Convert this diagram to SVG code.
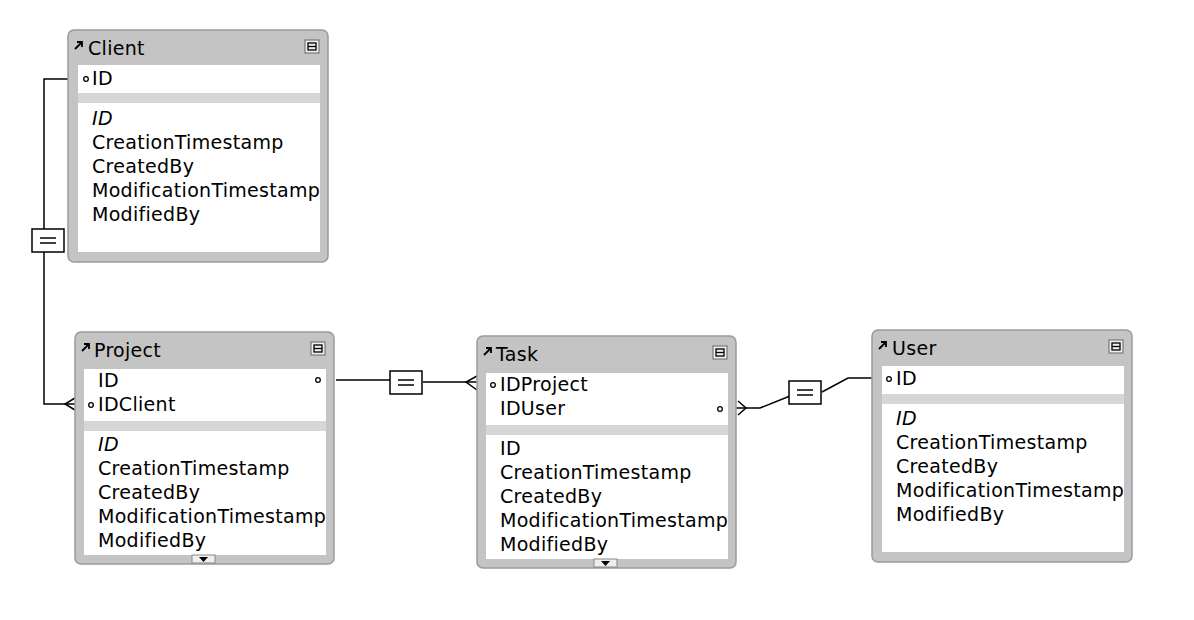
<svg xmlns="http://www.w3.org/2000/svg" width="1194" height="620" viewBox="0 0 1194 620">
<style>
.frame{fill:#c4c4c4;stroke:#9a9a9a;stroke-width:1.5}
.w{fill:#fff}
.sep{fill:#d6d6d6}
text{font-family:"DejaVu Sans","Liberation Sans",sans-serif;font-size:19px;letter-spacing:0.3px;fill:#000}
.it{font-style:italic}
.ln{fill:none;stroke:#000;stroke-width:1.5}
.box{fill:#fff;stroke:#000;stroke-width:1.5}
.dot{fill:none;stroke:#000;stroke-width:1.3}
</style>
<defs>
<g id="btn"><rect x="0" y="0" width="14" height="13" fill="#eee" stroke="#666"/><rect x="3" y="3" width="8" height="7" fill="none" stroke="#000" stroke-width="1.3"/><line x1="3" y1="6.5" x2="11" y2="6.5" stroke="#000" stroke-width="1.3"/></g>
<g id="arr"><path d="M1,9 L8,2 M3,2 L8,2 L8,7" stroke="#000" stroke-width="1.8" fill="none"/></g>
<g id="eq"><rect x="0" y="0" width="32" height="23" class="box"/><line x1="8" y1="9" x2="24" y2="9" stroke="#000" stroke-width="1.5"/><line x1="8" y1="14" x2="24" y2="14" stroke="#000" stroke-width="1.5"/></g>
</defs>
<g id="connectors">
<path class="ln" d="M78,79 H44 V404 H75"/>
<path class="ln" d="M75,398 L65,404 L75,410"/>
<use href="#eq" x="32" y="229"/>
<path class="ln" d="M336,380 H390 M423,382 H477"/>
<path class="ln" d="M477,376 L466,382 L477,390"/>
<use href="#eq" x="390" y="371"/>
<path class="ln" d="M736,408 H760 L790,396 M822,392 L848,378 H872"/>
<path class="ln" d="M738,401 L746,408 L738,415"/>
<use href="#eq" x="789" y="381"/>
</g>
<g id="client">
<rect class="frame" x="68" y="30" width="260" height="232" rx="6"/>
<use href="#arr" x="74" y="40"/><text x="88" y="55">Client</text><use href="#btn" x="305" y="40"/>
<rect class="w" x="78" y="65" width="242" height="28"/>
<rect class="sep" x="78" y="93" width="242" height="10"/>
<rect class="w" x="78" y="103" width="242" height="149"/>
<circle class="dot" cx="86" cy="79" r="2.3"/><text x="92" y="85">ID</text>
<text x="92" y="125" class="it">ID</text><text x="92" y="149">CreationTimestamp</text><text x="92" y="173">CreatedBy</text><text x="92" y="197">ModificationTimestamp</text><text x="92" y="221">ModifiedBy</text>
</g>
<g id="project">
<rect class="frame" x="75" y="332" width="259" height="232" rx="6"/>
<use href="#arr" x="81" y="342"/><text x="94" y="357">Project</text><use href="#btn" x="311" y="342"/>
<rect class="w" x="84" y="369" width="242" height="52"/>
<rect class="sep" x="84" y="421" width="242" height="10"/>
<rect class="w" x="84" y="431" width="242" height="124"/>
<text x="98" y="387">ID</text><circle class="dot" cx="318" cy="380" r="2.3"/>
<circle class="dot" cx="91" cy="405" r="2.3"/><text x="98" y="411">IDClient</text>
<text x="98" y="451" class="it">ID</text><text x="98" y="475">CreationTimestamp</text><text x="98" y="499">CreatedBy</text><text x="98" y="523">ModificationTimestamp</text><text x="98" y="547">ModifiedBy</text>
<rect x="192" y="555" width="23" height="8" fill="#eee" stroke="#888"/><path d="M199,557 L208,557 L203.5,562 Z"/>
</g>
<g id="task">
<rect class="frame" x="477" y="336" width="259" height="232" rx="6"/>
<use href="#arr" x="483" y="346"/><text x="496" y="361">Task</text><use href="#btn" x="713" y="346"/>
<rect class="w" x="486" y="373" width="242" height="52"/>
<rect class="sep" x="486" y="425" width="242" height="10"/>
<rect class="w" x="486" y="435" width="242" height="124"/>
<circle class="dot" cx="493" cy="385" r="2.3"/><text x="500" y="391">IDProject</text>
<text x="500" y="415">IDUser</text><circle class="dot" cx="720" cy="409" r="2.3"/>
<text x="500" y="455">ID</text><text x="500" y="479">CreationTimestamp</text><text x="500" y="503">CreatedBy</text><text x="500" y="527">ModificationTimestamp</text><text x="500" y="551">ModifiedBy</text>
<rect x="594" y="559" width="23" height="8" fill="#eee" stroke="#888"/><path d="M601,561 L610,561 L605.5,566 Z"/>
</g>
<g id="user">
<rect class="frame" x="872" y="330" width="260" height="232" rx="6"/>
<use href="#arr" x="878" y="340"/><text x="892" y="355">User</text><use href="#btn" x="1109" y="340"/>
<rect class="w" x="882" y="366" width="242" height="28"/>
<rect class="sep" x="882" y="394" width="242" height="10"/>
<rect class="w" x="882" y="404" width="242" height="148"/>
<circle class="dot" cx="889" cy="379" r="2.3"/><text x="896" y="385">ID</text>
<text x="896" y="425" class="it">ID</text><text x="896" y="449">CreationTimestamp</text><text x="896" y="473">CreatedBy</text><text x="896" y="497">ModificationTimestamp</text><text x="896" y="521">ModifiedBy</text>
</g>
</svg>
